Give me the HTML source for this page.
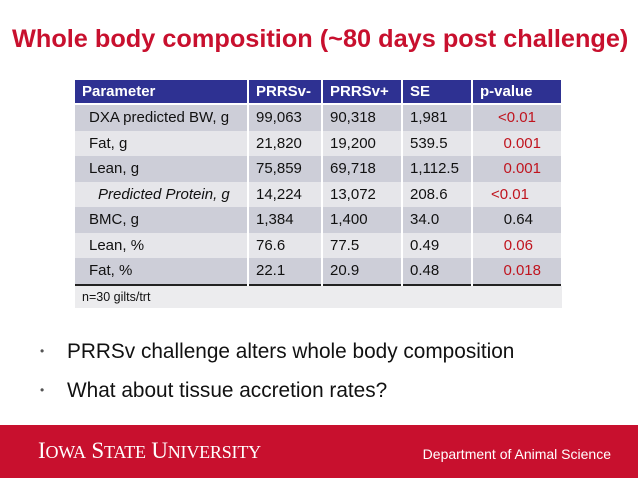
<!DOCTYPE html>
<html><head><meta charset="utf-8"><style>
body{margin:0;width:638px;height:478px;overflow:hidden;background:#fff;font-family:"Liberation Sans",sans-serif;position:relative}
.title{position:absolute;left:12px;top:25px;color:#c8102e;font-weight:bold;font-size:25.3px;white-space:nowrap}
table{position:absolute;left:75px;top:80px;border-collapse:collapse;font-size:15px;color:#111}
td,th{padding:0 0 0 7px;height:25.5px;border-right:2px solid #fff;text-align:left;white-space:nowrap}
th{background:#2e3192;color:#fff;font-weight:bold;height:23px;border-bottom:2px solid #fff}
tr.d td{background:#cdced8}tr.l td{background:#e6e6ea}
td.r{color:#c0141e;text-align:right;padding-right:20px}
td.b{text-align:right;padding-right:22px}
.foot td{background:#ececee;font-size:12.5px;height:22px;border-top:2px solid #222}
.bul{position:absolute;left:40px;font-size:20.8px;color:#111}
.bul span{display:inline-block;width:27px;font-size:12px;vertical-align:3px;color:#555}
.band{position:absolute;left:0;top:425px;width:638px;height:53px;background:#c8102e}
.isu{position:absolute;left:38px;top:438px;color:#fff;font-family:"Liberation Serif",serif;font-size:23px;letter-spacing:-0.2px}
.isu small{font-size:18px}
.dept{position:absolute;right:27px;top:446px;color:#fff;font-size:14px}
</style></head><body>
<div class="title">Whole body composition (~80 days post challenge)</div>
<table>
<colgroup><col style="width:173px"><col style="width:74px"><col style="width:80px"><col style="width:70px"><col style="width:90px"></colgroup>
<tr><th>Parameter</th><th>PRRSv-</th><th>PRRSv+</th><th>SE</th><th>p-value</th></tr>
<tr class="d"><td style="padding-left:14px">DXA predicted BW, g</td><td>99,063</td><td>90,318</td><td>1,981</td><td class="r" style="padding-right:25px">&lt;0.01</td></tr>
<tr class="l"><td style="padding-left:14px">Fat, g</td><td>21,820</td><td>19,200</td><td>539.5</td><td class="r">0.001</td></tr>
<tr class="d"><td style="padding-left:14px">Lean, g</td><td>75,859</td><td>69,718</td><td>1,112.5</td><td class="r">0.001</td></tr>
<tr class="l"><td style="padding-left:23px;font-style:italic">Predicted Protein, g</td><td>14,224</td><td>13,072</td><td>208.6</td><td class="r" style="padding-right:32px">&lt;0.01</td></tr>
<tr class="d"><td style="padding-left:14px">BMC, g</td><td>1,384</td><td>1,400</td><td>34.0</td><td class="b" style="padding-right:28px">0.64</td></tr>
<tr class="l"><td style="padding-left:14px">Lean, %</td><td>76.6</td><td>77.5</td><td>0.49</td><td class="r" style="padding-right:28px">0.06</td></tr>
<tr class="d"><td style="padding-left:14px">Fat, %</td><td>22.1</td><td>20.9</td><td>0.48</td><td class="r">0.018</td></tr>
<tr class="foot"><td colspan="5" style="border-right:none">n=30 gilts/trt</td></tr>
</table>
<div class="bul" style="top:340px"><span>•</span>PRRSv challenge alters whole body composition</div>
<div class="bul" style="top:379px"><span>•</span>What about tissue accretion rates?</div>
<div class="band"></div>
<div class="isu">I<small>OWA</small> S<small>TATE</small> U<small>NIVERSITY</small></div>
<div class="dept">Department of Animal Science</div>
</body></html>
